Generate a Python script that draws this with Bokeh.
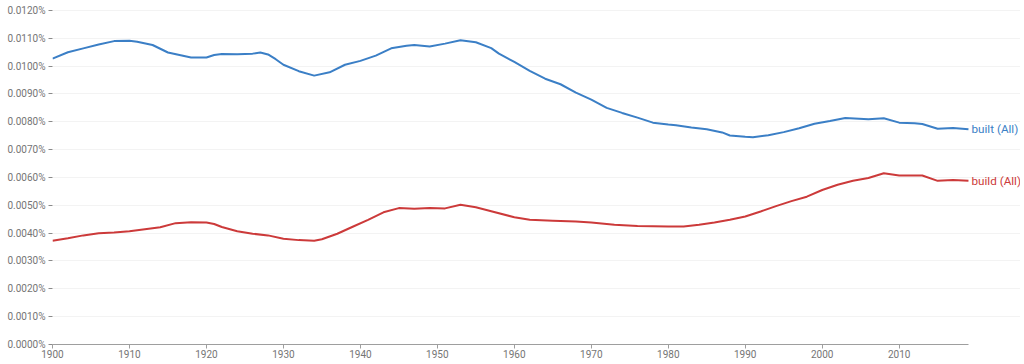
from bokeh.plotting import figure
from bokeh.models import Range1d, SingleIntervalTicker, FixedTicker, PrintfTickFormatter, Label
from bokeh.embed import file_html
from bokeh.resources import INLINE

# --- data (frequency in percent) ---
built_years = [1900, 1902, 1904, 1906, 1908, 1910, 1911, 1913, 1915, 1918, 1920, 1921, 1922, 1924,
               1926, 1927, 1928, 1929, 1930, 1932, 1934, 1936, 1938, 1940, 1942, 1944, 1946, 1947,
               1949, 1951, 1953, 1955, 1957, 1958, 1960, 1962, 1964, 1966, 1968, 1970, 1972, 1974,
               1976, 1978, 1980, 1981, 1983, 1985, 1987, 1988, 1990, 1991, 1993, 1995, 1997, 1999,
               2001, 2003, 2006, 2008, 2010, 2012, 2013, 2015, 2017, 2019]
built_vals = [0.01027, 0.01050, 0.01064, 0.01078, 0.01090, 0.01091, 0.01088, 0.01076, 0.01049,
              0.01031, 0.01031, 0.01040, 0.01044, 0.01043, 0.01045, 0.01049, 0.01042, 0.01025,
              0.01005, 0.00982, 0.00966, 0.00978, 0.01005, 0.01019, 0.01038, 0.01064, 0.01073,
              0.01076, 0.01071, 0.01081, 0.01093, 0.01086, 0.01065, 0.01045, 0.01015, 0.00983,
              0.00955, 0.00935, 0.00905, 0.00880, 0.00850, 0.00832, 0.00815, 0.00797, 0.00790,
              0.00788, 0.00780, 0.00773, 0.00762, 0.00751, 0.00746, 0.00745, 0.00752, 0.00763,
              0.00777, 0.00793, 0.00803, 0.00814, 0.00809, 0.00813, 0.00797, 0.00795, 0.00792,
              0.00775, 0.00778, 0.00773]

build_years = [1900, 1902, 1904, 1906, 1908, 1910, 1912, 1914, 1916, 1918, 1920, 1921, 1922, 1924,
               1926, 1928, 1930, 1932, 1934, 1935, 1937, 1939, 1941, 1943, 1945, 1947, 1949, 1951,
               1953, 1955, 1957, 1960, 1962, 1965, 1968, 1970, 1973, 1976, 1980, 1982, 1984, 1986,
               1988, 1990, 1992, 1994, 1996, 1998, 2000, 2002, 2004, 2006, 2008, 2010, 2013, 2015,
               2017, 2019]
build_vals = [0.00373, 0.00382, 0.00392, 0.00400, 0.00402, 0.00407, 0.00414, 0.00421, 0.00436,
              0.00439, 0.00438, 0.00433, 0.00422, 0.00407, 0.00398, 0.00392, 0.00380, 0.00375,
              0.00373, 0.00378, 0.00398, 0.00423, 0.00448, 0.00475, 0.00490, 0.00488, 0.00490,
              0.00489, 0.00502, 0.00493, 0.00479, 0.00457, 0.00448, 0.00445, 0.00442, 0.00438,
              0.00430, 0.00426, 0.00424, 0.00424, 0.00430, 0.00438, 0.00448, 0.00460, 0.00478,
              0.00497, 0.00515, 0.00531, 0.00555, 0.00574, 0.00588, 0.00598, 0.00615, 0.00607,
              0.00607, 0.00588, 0.00591, 0.00588]

series_names = ["built (All)", "build (All)"]
series_colors = ["#3b7fc6", "#cc3a3a"]
year_start, year_end = 1900, 2019
decade_ticks = list(range(1900, 2011, 10))

FONT = "Roboto"
TICK_COLOR = "#757575"

p = figure(width=1020, height=362, output_backend="svg", toolbar_location=None,
           x_range=Range1d(year_start, 2025.76), y_range=Range1d(0, 0.012359),
           min_border_left=52, min_border_right=0, min_border_top=0, min_border_bottom=18)
p.outline_line_color = None
p.background_fill_color = "white"
p.border_fill_color = "white"

p.line(built_years, built_vals, line_color=series_colors[0], line_width=2)
p.line(build_years, build_vals, line_color=series_colors[1], line_width=2)

for name, col, xs, ys in [(series_names[0], series_colors[0], built_years, built_vals),
                          (series_names[1], series_colors[1], build_years, build_vals)]:
    p.add_layout(Label(x=xs[-1], y=ys[-1], text=name, x_offset=3, text_color=col,
                       text_font=FONT, text_font_size="11.7px", text_baseline="middle",
                       text_align="left"))

# x axis
p.xaxis.ticker = FixedTicker(ticks=decade_ticks)
p.xaxis.bounds = (year_start, year_end)
p.xaxis.minor_tick_line_color = None
p.xaxis.axis_line_color = "#9e9e9e"
p.xaxis.major_tick_line_color = "#9e9e9e"
p.xaxis.major_tick_out = 4
p.xaxis.major_tick_in = 0
p.xaxis.major_label_standoff = 1
p.xaxis.major_label_text_font = FONT
p.xaxis.major_label_text_font_size = "10px"
p.xaxis.major_label_text_color = TICK_COLOR

# y axis
p.yaxis.ticker = SingleIntervalTicker(interval=0.001)
p.yaxis.formatter = PrintfTickFormatter(format="%.4f%%")
p.yaxis.minor_tick_line_color = None
p.yaxis.axis_line_color = None
p.yaxis.major_tick_line_color = "#8a8a8a"
p.yaxis.major_tick_line_width = 1
p.yaxis.major_tick_out = 4
p.yaxis.major_tick_in = 0
p.yaxis.major_label_standoff = 3
p.yaxis.major_label_text_font = FONT
p.yaxis.major_label_text_font_size = "10px"
p.yaxis.major_label_text_color = TICK_COLOR

p.xgrid.grid_line_color = None
p.ygrid.grid_line_color = "#f3f3f3"
p.ygrid.ticker = SingleIntervalTicker(interval=0.001)

open("out.html", "w").write(file_html(p, INLINE))
